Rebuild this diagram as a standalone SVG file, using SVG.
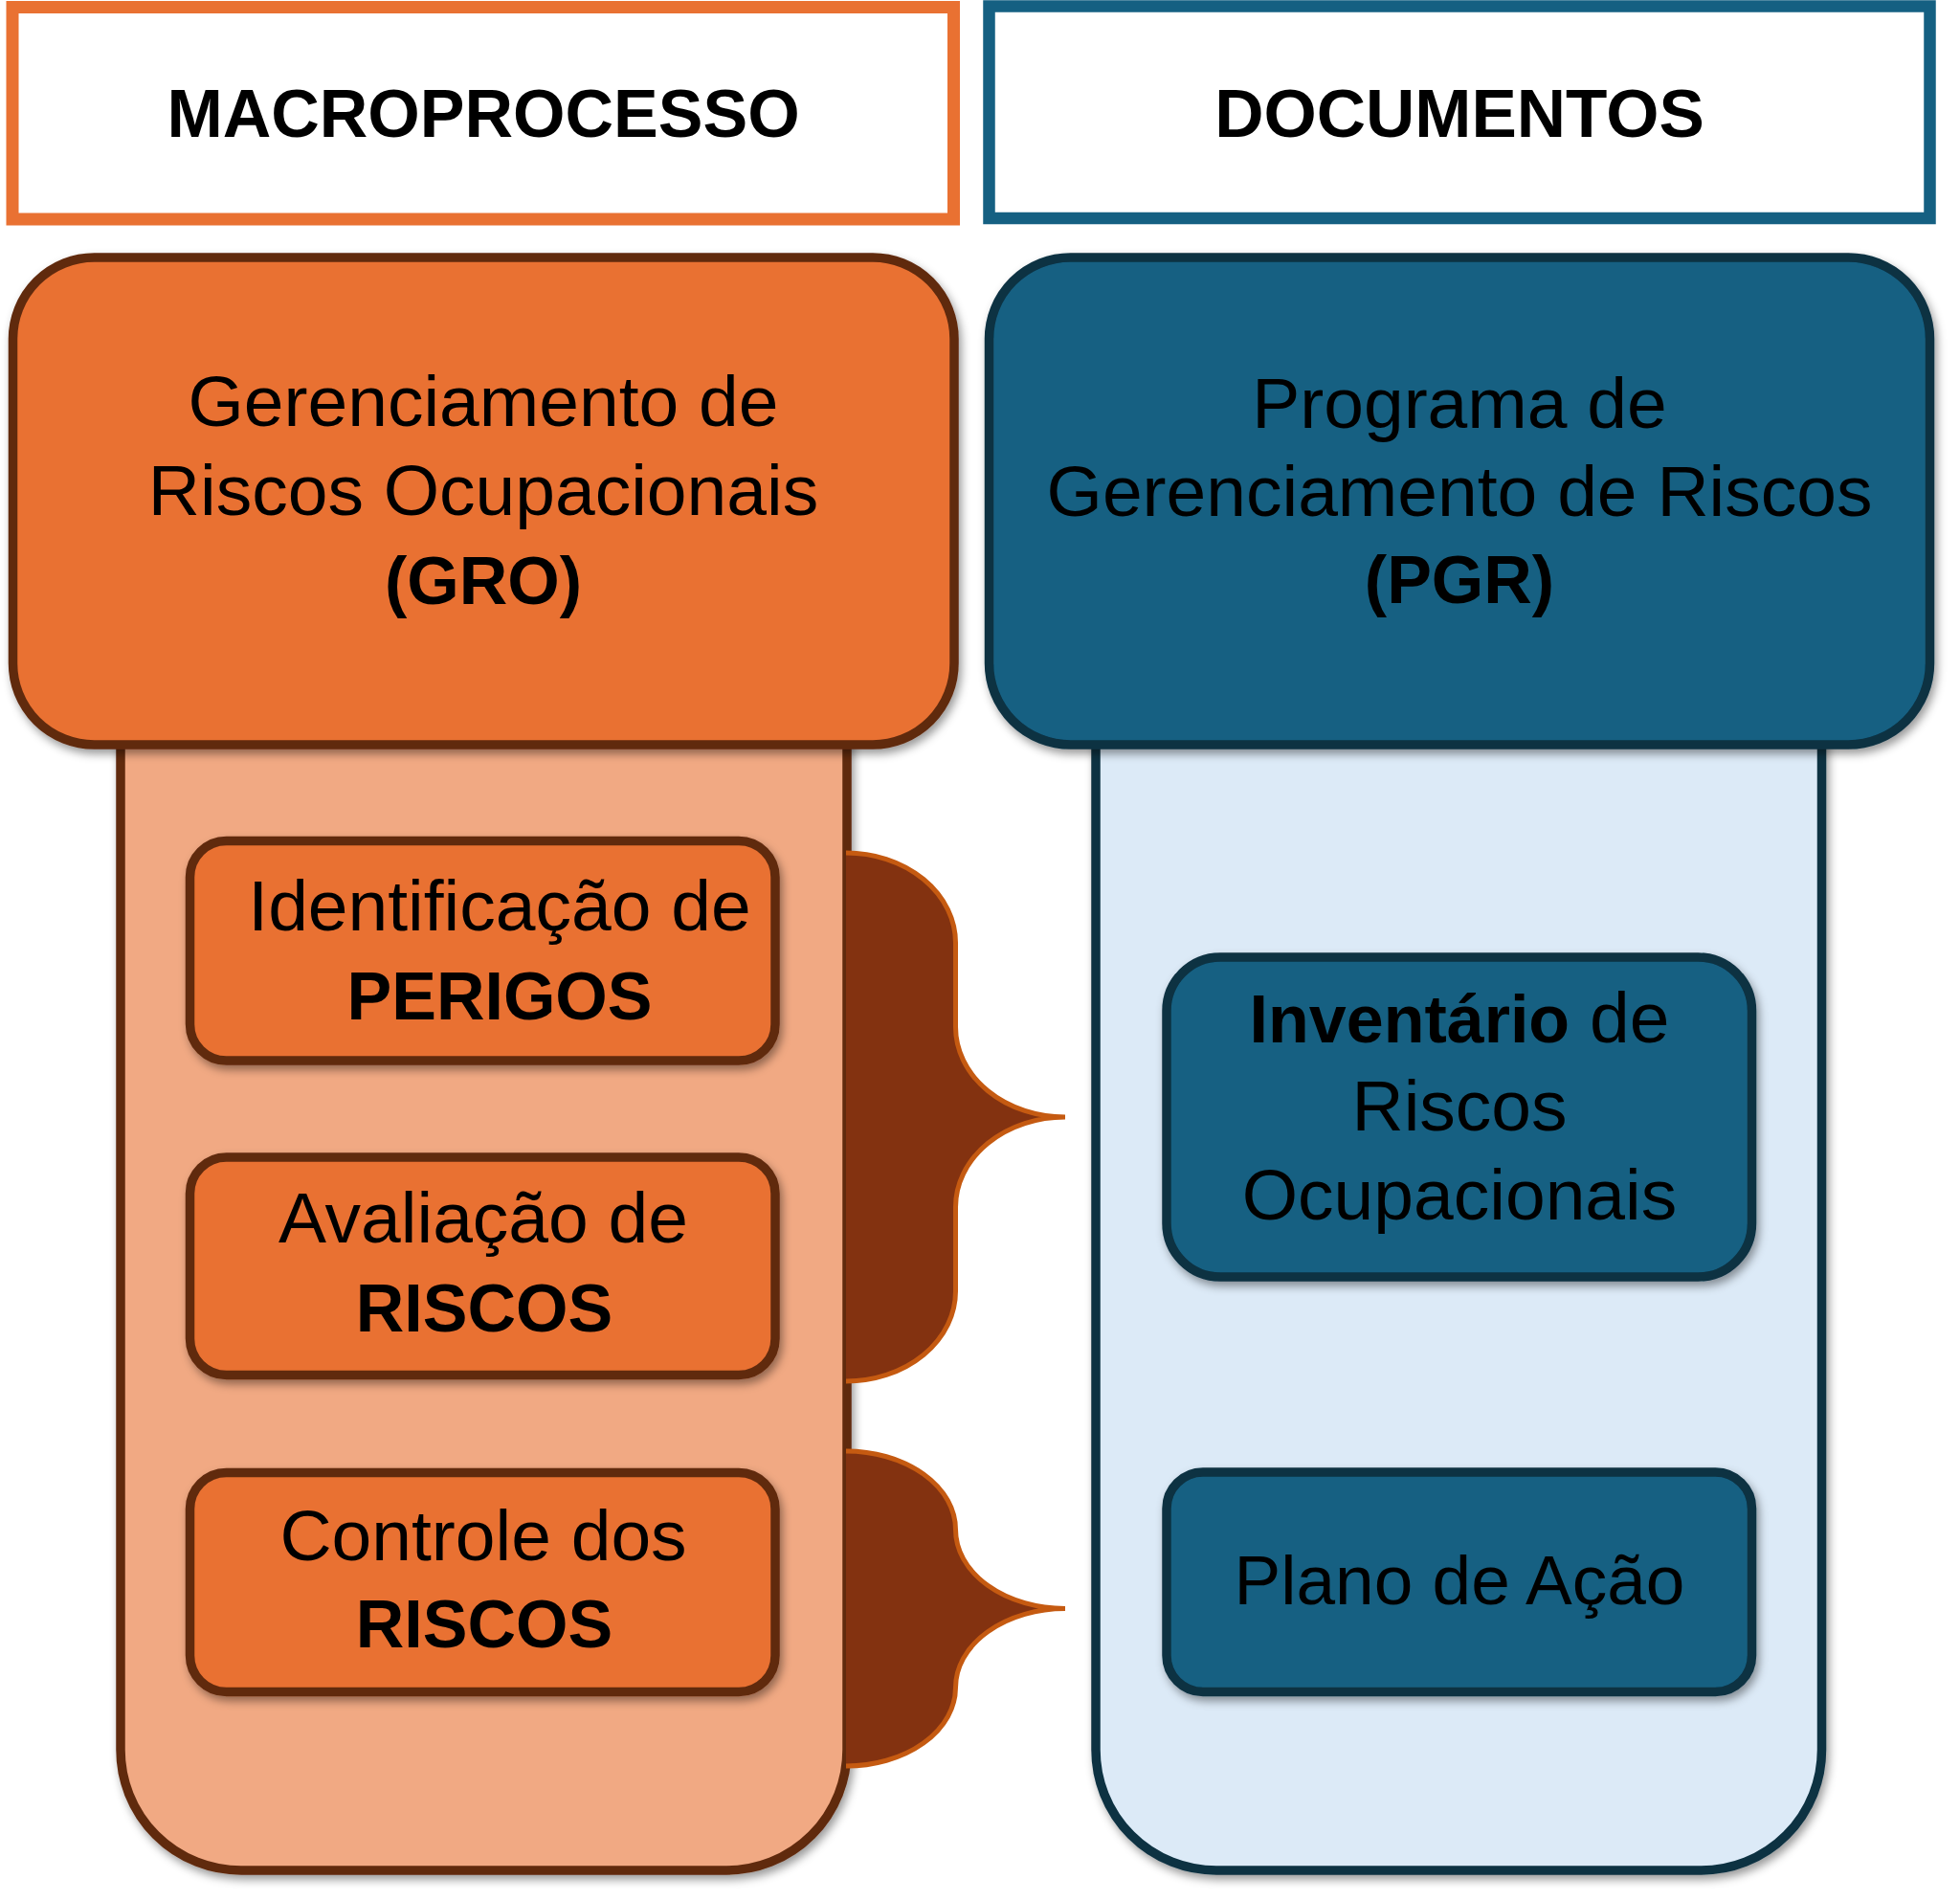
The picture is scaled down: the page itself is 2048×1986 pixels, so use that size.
<svg xmlns="http://www.w3.org/2000/svg" width="2048" height="1986" viewBox="0 0 2048 1986">
  <defs>
    <filter id="sh" x="-10%" y="-10%" width="125%" height="125%">
      <feDropShadow dx="3" dy="5" stdDeviation="5" flood-color="#000" flood-opacity="0.4"/>
    </filter>
    <style>
      text { font-family: "Liberation Sans", Arial, sans-serif; fill: #000; text-anchor: middle; }
      .r { font-size: 75px; }
      .b { font-size: 70px; font-weight: bold; }
      .hdrO { fill: #fff; stroke: #E97132; stroke-width: 13; }
      .hdrB { fill: #fff; stroke: #156082; stroke-width: 12.5; }
      .bigO { fill: #E97132; stroke: #612A0E; stroke-width: 9.5; }
      .bigB { fill: #156082; stroke: #0C3142; stroke-width: 9.5; }
      .colO { fill: #F1A983; stroke: #612A0E; stroke-width: 9.5; }
      .colB { fill: #DCEAF7; stroke: #0C3142; stroke-width: 9.5; }
      .nO { fill: #E97132; stroke: #612A0E; stroke-width: 9.5; }
      .nB { fill: #156082; stroke: #0C3142; stroke-width: 9.5; }
      .brace { fill: #833210; stroke: #C55A11; stroke-width: 5; }
    </style>
  </defs>

  <rect width="2048" height="1986" fill="#fff"/>

  <g id="header-macroprocesso">
    <rect class="hdrO" x="13" y="7.5" width="983.5" height="221.5"/>
    <text class="b" x="505" y="143">MACROPROCESSO</text>
  </g>
  <g id="header-documentos">
    <rect class="hdrB" x="1033.5" y="6.5" width="983" height="221.5"/>
    <text class="b" x="1525" y="142.5" style="font-size:71px">DOCUMENTOS</text>
  </g>

  <g id="column-gro">
    <path class="colO" filter="url(#sh)" d="M126,700 V1828 A126,126 0 0 0 252,1954 H759 A126,126 0 0 0 885,1828 V700"/>
  </g>
  <g id="column-pgr">
    <path class="colB" filter="url(#sh)" d="M1145,700 V1828 A126,126 0 0 0 1271,1954 H1777.5 A126,126 0 0 0 1903.5,1828 V700"/>
  </g>

  <g id="connectors">
    <path class="brace" d="M884,891 A114.5,94 0 0 1 998.5,985 L998.5,1073 A114.5,94 0 0 0 1113,1167 A114.5,94 0 0 0 998.5,1261 L998.5,1349 A114.5,94 0 0 1 884,1443"/>
    <path class="brace" d="M884,1516 A114.5,82 0 0 1 998.5,1598 A114.5,82.5 0 0 0 1113,1680.5 A114.5,82.5 0 0 0 998.5,1763 A114.5,82 0 0 1 884,1845"/>
  </g>

  <g id="gro">
    <rect class="bigO" filter="url(#sh)" x="13.5" y="269" width="983.5" height="509" rx="85"/>
    <text class="r" x="505" y="445">Gerenciamento de</text>
    <text class="r" x="505" y="538">Riscos Ocupacionais</text>
    <text class="b" x="505" y="631">(GRO)</text>
  </g>
  <g id="pgr">
    <rect class="bigB" filter="url(#sh)" x="1033.5" y="269" width="983" height="509" rx="85"/>
    <text class="r" x="1525" y="447">Programa de</text>
    <text class="r" x="1525" y="539">Gerenciamento de Riscos</text>
    <text class="b" x="1525" y="630">(PGR)</text>
  </g>

  <g id="identificacao-perigos">
    <rect class="nO" filter="url(#sh)" x="198.5" y="878.5" width="611.5" height="229.5" rx="38"/>
    <text class="r" x="522" y="972">Identificação de</text>
    <text class="b" x="522" y="1065">PERIGOS</text>
  </g>
  <g id="avaliacao-riscos">
    <rect class="nO" filter="url(#sh)" x="198.5" y="1209" width="611.5" height="227.5" rx="38"/>
    <text class="r" x="505" y="1298">Avaliação de</text>
    <text class="b" x="506" y="1391">RISCOS</text>
  </g>
  <g id="controle-riscos">
    <rect class="nO" filter="url(#sh)" x="198.5" y="1538.5" width="611.5" height="229" rx="38"/>
    <text class="r" x="505" y="1629.5">Controle dos</text>
    <text class="b" x="506" y="1721">RISCOS</text>
  </g>

  <g id="inventario">
    <rect class="nB" filter="url(#sh)" x="1219" y="1000" width="611.5" height="334" rx="56"/>
    <text class="r" x="1525" y="1089"><tspan style="font-size:70px;font-weight:bold">Inventário</tspan> de</text>
    <text class="r" x="1525" y="1181">Riscos</text>
    <text class="r" x="1525" y="1273.5">Ocupacionais</text>
  </g>
  <g id="plano-acao">
    <rect class="nB" filter="url(#sh)" x="1219" y="1538" width="611.5" height="229.5" rx="38"/>
    <text class="r" x="1525" y="1675.5" style="font-size:73px">Plano de Ação</text>
  </g>
</svg>
